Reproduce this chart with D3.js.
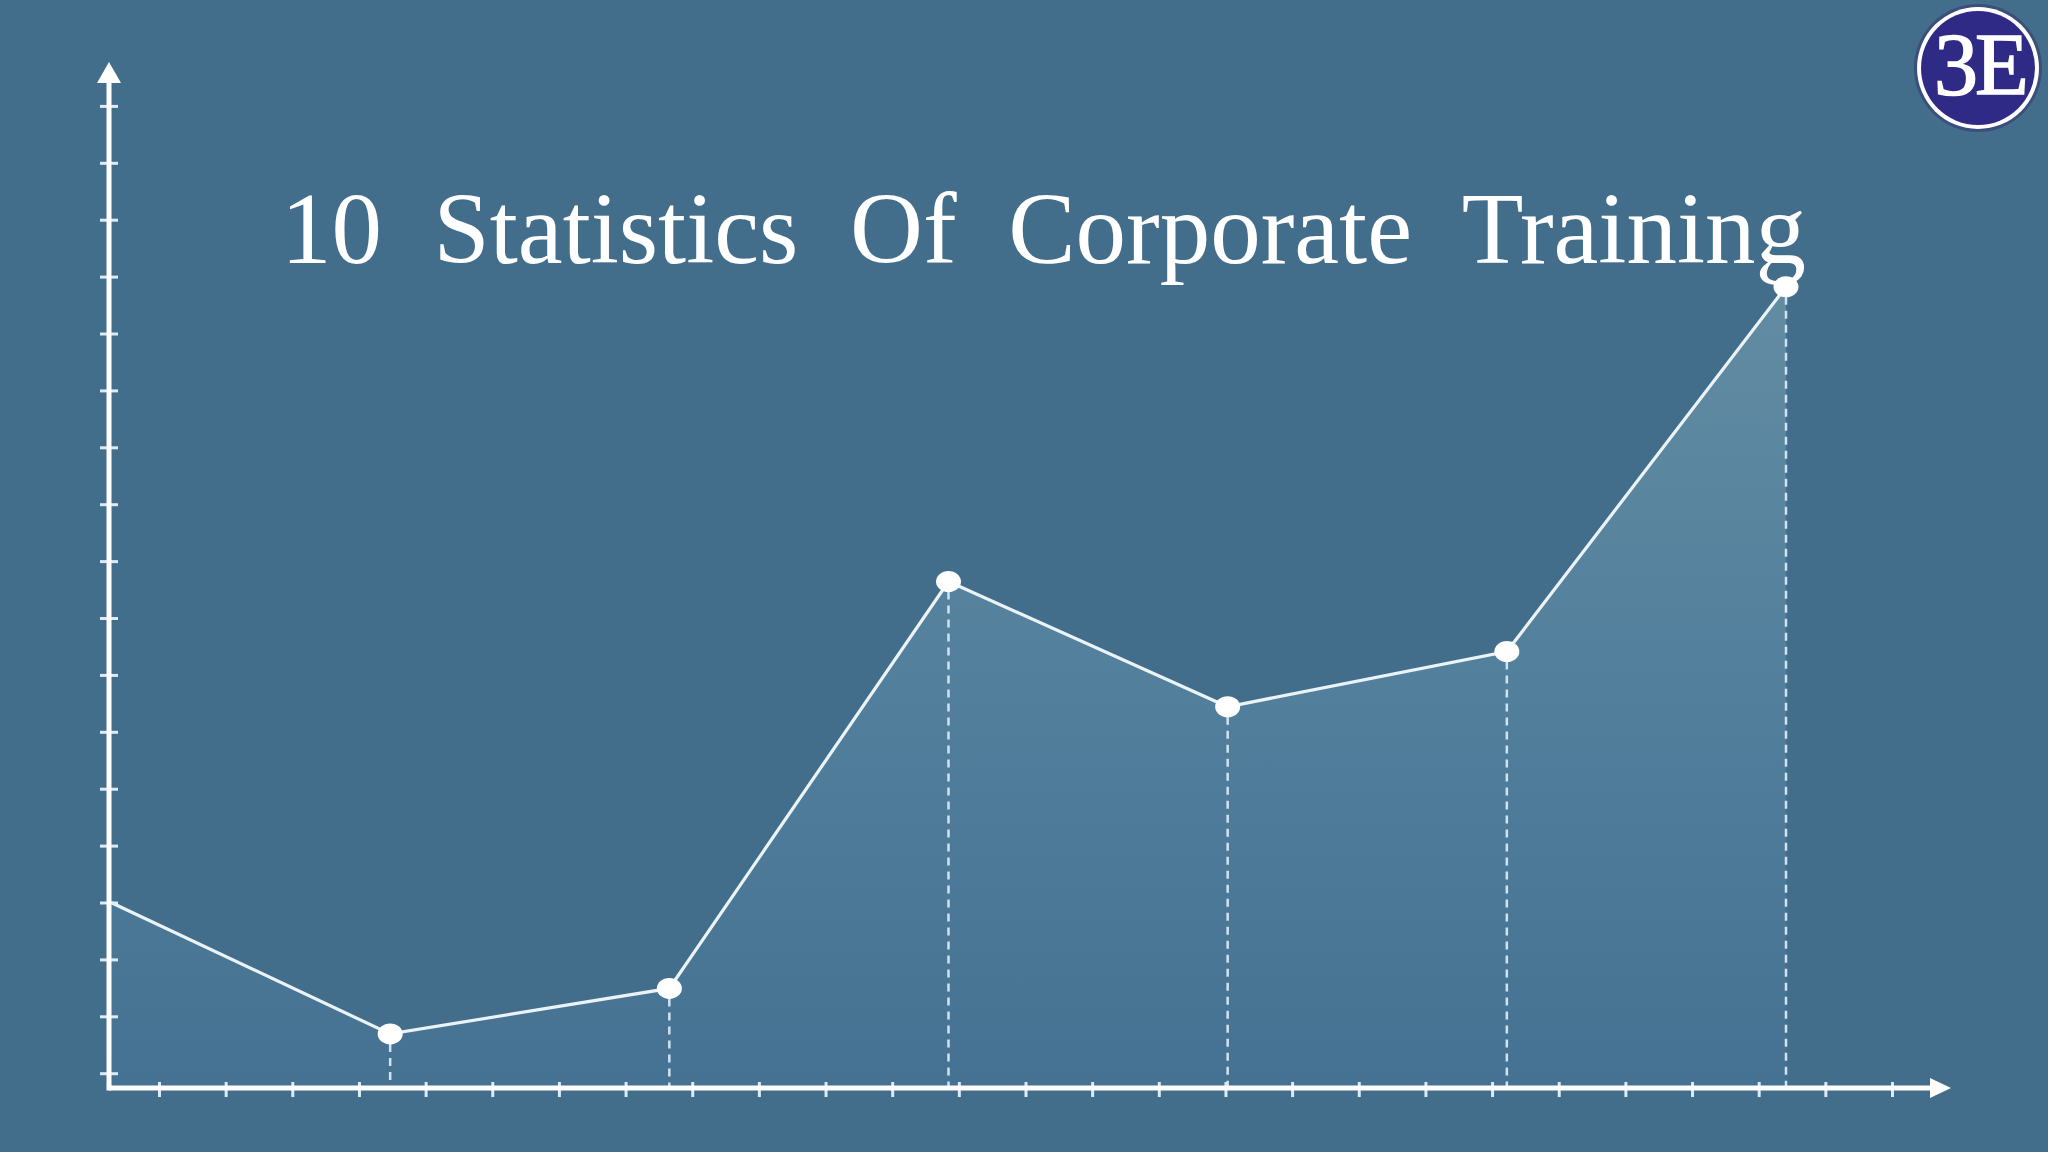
<!DOCTYPE html>
<html>
<head>
<meta charset="utf-8">
<script src="https://cdn.jsdelivr.net/npm/d3@7"></script>
<style>
  html, body { margin: 0; padding: 0; background: #426e8c; }
  svg { display: block; }
</style>
</head>
<body>
<script>
// ---- data ----
const title = "10 Statistics Of Corporate Training";
const logoText = "3E";
const categories = [0, 1, 2, 3, 4, 5, 6];
const values = [3.26, 0.95, 1.75, 8.90, 6.70, 7.67, 14.08];
const markerShown = [false, true, true, true, true, true, true];
const yTickValues = [0.26, 1.26, 2.26, 3.26, 4.26, 5.26, 6.26, 7.26, 8.26, 9.26, 10.26, 11.26, 12.26, 13.26, 14.26, 15.26, 16.26, 17.26];
const xTickValues = [0, 1, 2, 3, 4, 5, 6, 7, 8, 9, 10, 11, 12, 13, 14, 15, 16, 17, 18, 19, 20, 21, 22, 23, 24, 25, 26];

const W = 2048, H = 1152;
const svg = d3.select("body").append("svg").attr("width", W).attr("height", H);
svg.append("rect").attr("width", W).attr("height", H).attr("fill", "#426e8c");

const originX = 109, originY = 1088;
const x = d3.scaleLinear().domain([0, 6]).range([111, 1786]);
const y = d3.scaleLinear().domain([0, 18]).range([originY, originY - 18 * 56.9]);
const xTick = d3.scaleLinear().domain([0, 26]).range([159, 1892]);

// gradient for area
const defs = svg.append("defs");
const grad = defs.append("linearGradient").attr("id", "areaGrad")
  .attr("gradientUnits", "userSpaceOnUse")
  .attr("x1", 0).attr("y1", y(14.08)).attr("x2", 0).attr("y2", originY);
grad.append("stop").attr("offset", 0).attr("stop-color", "#628ca2");
grad.append("stop").attr("offset", 0.5).attr("stop-color", "#527f9c");
grad.append("stop").attr("offset", 1).attr("stop-color", "#457292");

const pts = categories.map((c, i) => ({ c, v: values[i], m: markerShown[i] }));

// area
const area = d3.area().x(d => x(d.c)).y0(originY).y1(d => y(d.v));
svg.append("path").datum(pts).attr("d", area).attr("fill", "url(#areaGrad)");

// dashed droplines
svg.append("g").selectAll("line").data(pts.filter(d => d.m)).join("line")
  .attr("x1", d => x(d.c)).attr("x2", d => x(d.c))
  .attr("y1", d => y(d.v) + 10).attr("y2", originY)
  .attr("stroke", "#cfe3f2").attr("stroke-width", 2.5)
  .attr("stroke-dasharray", "8,6");

// line
const line = d3.line().x(d => x(d.c)).y(d => y(d.v));
svg.append("path").datum(pts).attr("d", line)
  .attr("fill", "none").attr("stroke", "#eaf3f8").attr("stroke-width", 3.2);

// x axis ticks
const xAxis = d3.axisBottom(xTick).tickValues(xTickValues).tickSize(9).tickSizeOuter(0).tickFormat("");
const gx = svg.append("g").attr("transform", `translate(0,${originY})`).call(xAxis);
gx.select(".domain").remove();
gx.selectAll(".tick line").attr("stroke", "#dcebf5").attr("stroke-width", 3).attr("y1", -6);

// y axis ticks
const yAxis = d3.axisLeft(y).tickValues(yTickValues).tickSize(9).tickSizeOuter(0).tickFormat("");
const gy = svg.append("g").attr("transform", `translate(${originX},0)`).call(yAxis);
gy.select(".domain").remove();
gy.selectAll(".tick line").attr("stroke", "#dcebf5").attr("stroke-width", 3).attr("x2", 9).attr("x1", -9);

// axis lines
svg.append("line").attr("x1", originX).attr("x2", 1935).attr("y1", originY).attr("y2", originY)
  .attr("stroke", "#ffffff").attr("stroke-width", 5);
svg.append("line").attr("x1", originX).attr("x2", originX).attr("y1", originY + 2.5).attr("y2", 78)
  .attr("stroke", "#ffffff").attr("stroke-width", 5);
// arrows
svg.append("path").attr("d", `M1930,${originY - 10} L1951,${originY} L1930,${originY + 10} Z`).attr("fill", "#ffffff");
svg.append("path").attr("d", `M${originX - 12},83 L${originX},62 L${originX + 12},83 Z`).attr("fill", "#ffffff");

// markers
svg.append("g").selectAll("ellipse").data(pts.filter(d => d.m)).join("ellipse")
  .attr("cx", d => x(d.c)).attr("cy", d => y(d.v))
  .attr("rx", 12.5).attr("ry", 10.5).attr("fill", "#ffffff");

// title
const t = svg.append("text").attr("x", 281).attr("y", 263)
  .attr("font-family", "'Liberation Serif', 'DejaVu Serif', serif")
  .attr("font-size", 101).attr("fill", "#ffffff")
  .style("font-variant-numeric", "oldstyle-nums")
  .text(title);
// adjust word spacing to match target width
const targetW = 1806 - 281;
const natural = t.node().getComputedTextLength();
const gaps = title.split(" ").length - 1;
t.attr("word-spacing", (targetW - natural) / gaps);

// logo
const logo = svg.append("g");
logo.append("circle").attr("cx", 1978).attr("cy", 68).attr("r", 64).attr("fill", "#3a4f7a");
logo.append("circle").attr("cx", 1978).attr("cy", 68).attr("r", 61).attr("fill", "#ffffff");
logo.append("circle").attr("cx", 1978).attr("cy", 68).attr("r", 57).attr("fill", "#2f2a86");
logo.append("text").attr("x", 1980).attr("y", 94).attr("text-anchor", "middle")
  .attr("font-family", "'Liberation Serif', 'DejaVu Serif', serif")
  .attr("font-size", 88).attr("fill", "#ffffff").attr("stroke", "#ffffff").attr("stroke-width", 1.5)
  .attr("letter-spacing", -3)
  .text(logoText);
</script>
</body>
</html>
